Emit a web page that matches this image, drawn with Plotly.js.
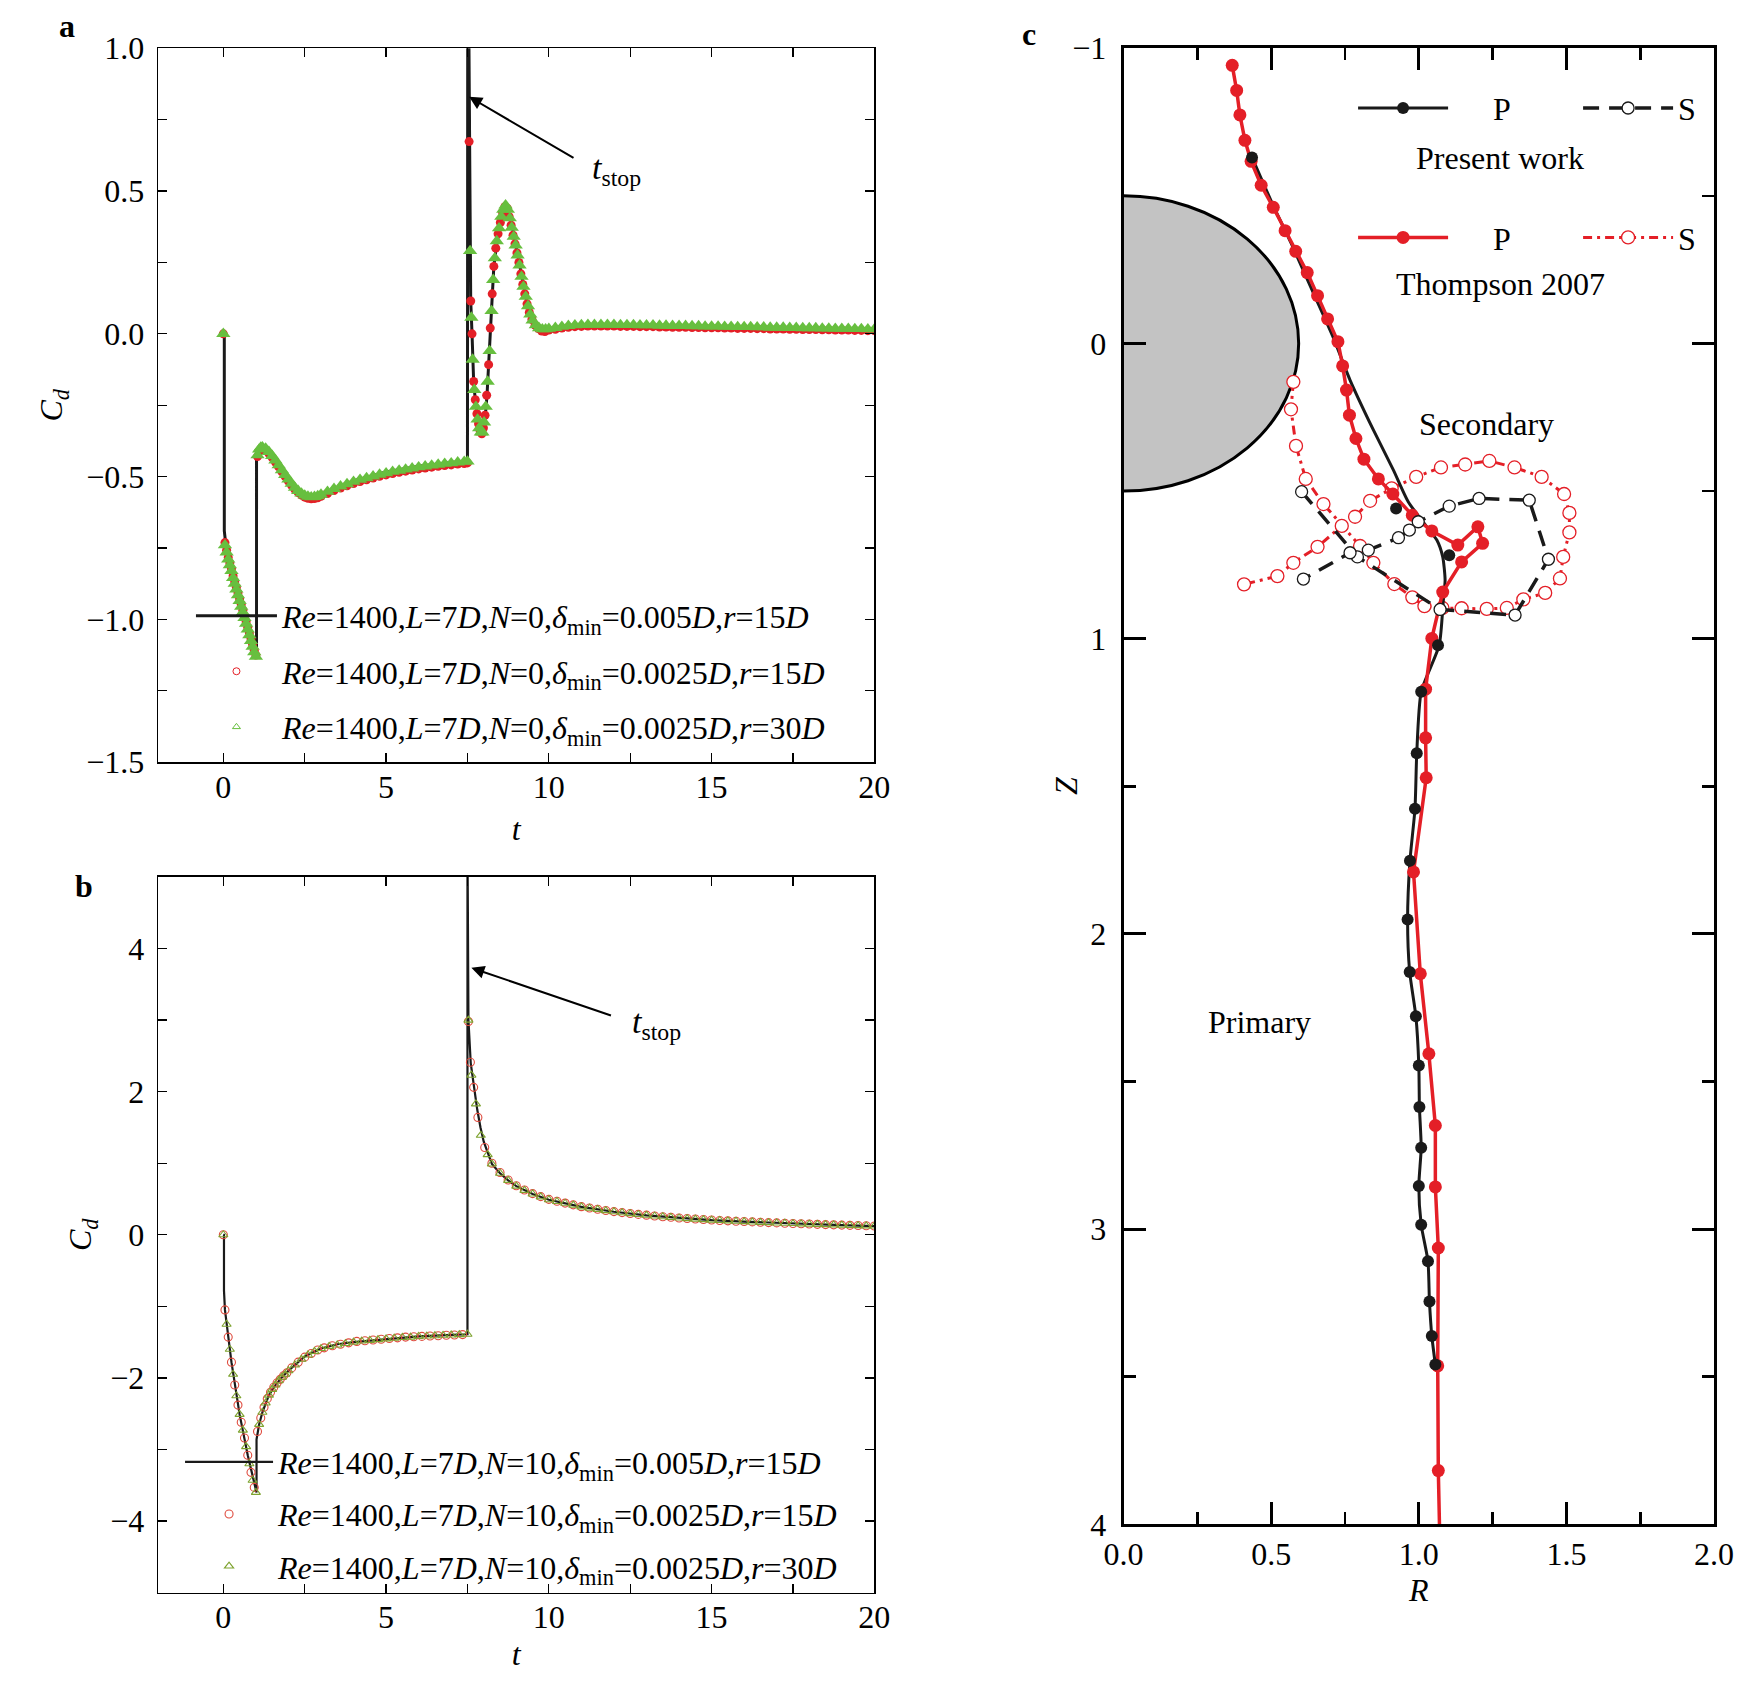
<!DOCTYPE html>
<html><head><meta charset="utf-8">
<script src="https://cdn.plot.ly/plotly-3.0.1.min.js"></script>
<style>html,body{margin:0;padding:0;background:#fff;overflow:hidden}#chart{width:1760px;height:1681px}</style>
</head><body><div id="chart"></div>
<script>
// ---------------- Panel a data (t, Cd) ----------------
const tA_black = [0,0.03,0.03,0.07,0.5,1.0,1.02,1.02,1.1,1.2,1.4,1.6,1.8,2.0,2.3,2.6,2.8,3.0,3.5,4.0,5.0,6.0,7.0,7.5,7.51,7.53,7.55,7.6,7.64,7.69,7.74,7.79,7.84,7.9,7.95,8.0,8.05,8.1,8.15,8.2,8.26,8.31,8.38,8.45,8.52,8.6,8.67,8.75,8.85,8.95,9.05,9.15,9.25,9.35,9.45,9.6,9.8,10.0,10.5,11.0,12.0,13.0,14.0,16.0,18.0,20.0];
const cdA_black = [0,0,-0.69,-0.731,-0.935,-1.13,-1.13,-0.43,-0.40,-0.397,-0.413,-0.443,-0.477,-0.51,-0.55,-0.57,-0.571,-0.563,-0.54,-0.515,-0.484,-0.464,-0.451,-0.446,1.6,1.2,0.673,0.115,0.0,-0.167,-0.231,-0.28,-0.315,-0.34,-0.35,-0.33,-0.285,-0.215,-0.108,0.02,0.14,0.236,0.3,0.35,0.39,0.43,0.447,0.43,0.39,0.33,0.27,0.205,0.145,0.095,0.06,0.03,0.015,0.018,0.026,0.031,0.032,0.03,0.028,0.024,0.02,0.016];

const tA_start = [0,0.05,0.1,0.15,0.2,0.25,0.3,0.35,0.4,0.45,0.5,0.55,0.6,0.65,0.7,0.75,0.8,0.85,0.9,0.95,1.0];
const cdA_red_start = [0,-0.731,-0.758,-0.783,-0.803,-0.823,-0.848,-0.868,-0.888,-0.908,-0.928,-0.948,-0.968,-0.988,-1.008,-1.028,-1.048,-1.068,-1.088,-1.108,-1.125];
const cdA_green_start = [0,-0.74,-0.765,-0.79,-0.81,-0.83,-0.855,-0.875,-0.895,-0.915,-0.935,-0.955,-0.975,-0.995,-1.015,-1.035,-1.055,-1.075,-1.095,-1.115,-1.13];

const tA_plateau = [1.05,1.1,1.15,1.2,1.3,1.4,1.5,1.6,1.7,1.8,1.9,2.0,2.1,2.2,2.3,2.4,2.5,2.6,2.7,2.8,2.9,3.0,3.2,3.4,3.6,3.8,4.0,4.2,4.4,4.6,4.8,5.0,5.2,5.4,5.6,5.8,6.0,6.2,6.4,6.6,6.8,7.0,7.2,7.4,7.5];
const cdA_red_plateau = [-0.43,-0.411,-0.404,-0.403,-0.408,-0.419,-0.433,-0.449,-0.466,-0.483,-0.5,-0.516,-0.531,-0.545,-0.556,-0.565,-0.572,-0.576,-0.578,-0.577,-0.574,-0.569,-0.559,-0.549,-0.54,-0.532,-0.524,-0.517,-0.511,-0.505,-0.499,-0.494,-0.489,-0.485,-0.481,-0.477,-0.473,-0.47,-0.467,-0.464,-0.461,-0.459,-0.456,-0.454,-0.452];
const cdA_green_plateau = [-0.425,-0.405,-0.398,-0.397,-0.402,-0.413,-0.427,-0.443,-0.46,-0.477,-0.494,-0.51,-0.525,-0.539,-0.55,-0.559,-0.566,-0.57,-0.572,-0.571,-0.568,-0.563,-0.553,-0.543,-0.534,-0.526,-0.518,-0.511,-0.505,-0.499,-0.493,-0.488,-0.483,-0.479,-0.475,-0.471,-0.467,-0.464,-0.461,-0.458,-0.455,-0.453,-0.45,-0.448,-0.447];

const tA_red_spike = [7.55,7.6,7.64,7.69,7.74,7.79,7.84,7.89,7.94,7.99,8.04,8.09,8.15,8.2,8.26,8.31,8.37,8.44,8.51,8.58,8.65,8.72,8.78,8.84,8.9,8.96,9.02,9.08,9.14,9.2,9.26,9.33,9.4,9.48,9.58,9.68,9.78,9.88];
const cdA_red_spike = [0.673,0.115,0.0,-0.167,-0.231,-0.28,-0.315,-0.34,-0.35,-0.33,-0.285,-0.215,-0.108,0.02,0.14,0.236,0.3,0.35,0.39,0.425,0.445,0.44,0.41,0.38,0.345,0.315,0.283,0.25,0.21,0.173,0.14,0.105,0.075,0.05,0.03,0.018,0.01,0.008];
const tA_green_spike = [7.58,7.62,7.66,7.71,7.76,7.81,7.86,7.91,7.96,8.01,8.06,8.12,8.18,8.24,8.29,8.34,8.4,8.47,8.54,8.6,8.67,8.74,8.8,8.86,8.92,8.98,9.04,9.1,9.16,9.22,9.29,9.36,9.43,9.5,9.6,9.7,9.8,9.9];
const cdA_green_spike = [0.29,0.057,-0.09,-0.196,-0.255,-0.3,-0.33,-0.345,-0.345,-0.31,-0.255,-0.167,-0.06,0.08,0.189,0.265,0.325,0.37,0.41,0.435,0.45,0.435,0.405,0.372,0.34,0.31,0.275,0.24,0.2,0.165,0.13,0.097,0.068,0.047,0.03,0.02,0.016,0.016];

const tA_tail = [10.0,10.2,10.4,10.6,10.8,11.0,11.2,11.4,11.6,11.8,12.0,12.2,12.4,12.6,12.8,13.0,13.2,13.4,13.6,13.8,14.0,14.2,14.4,14.6,14.8,15.0,15.2,15.4,15.6,15.8,16.0,16.2,16.4,16.6,16.8,17.0,17.2,17.4,17.6,17.8,18.0,18.2,18.4,18.6,18.8,19.0,19.2,19.4,19.6,19.8,20.0];
const cdA_red_tail = [0.013,0.016,0.02,0.023,0.025,0.026,0.027,0.027,0.027,0.027,0.027,0.026,0.026,0.026,0.025,0.025,0.025,0.024,0.024,0.023,0.023,0.023,0.022,0.022,0.021,0.021,0.021,0.02,0.02,0.019,0.019,0.019,0.018,0.018,0.017,0.017,0.017,0.016,0.016,0.015,0.015,0.015,0.014,0.014,0.013,0.013,0.013,0.012,0.012,0.011,0.011];
const cdA_green_tail = [0.018,0.021,0.025,0.028,0.03,0.031,0.032,0.032,0.032,0.032,0.032,0.031,0.031,0.031,0.03,0.03,0.03,0.029,0.029,0.028,0.028,0.028,0.027,0.027,0.026,0.026,0.026,0.025,0.025,0.024,0.024,0.024,0.023,0.023,0.022,0.022,0.022,0.021,0.021,0.02,0.02,0.02,0.019,0.019,0.018,0.018,0.018,0.017,0.017,0.016,0.016];

const legendA = [
  '<i>Re</i>=1400,<i>L</i>=7<i>D</i>,<i>N</i>=0,<i>δ</i><sub>min</sub>=0.005<i>D</i>,<i>r</i>=15<i>D</i>',
  '<i>Re</i>=1400,<i>L</i>=7<i>D</i>,<i>N</i>=0,<i>δ</i><sub>min</sub>=0.0025<i>D</i>,<i>r</i>=15<i>D</i>',
  '<i>Re</i>=1400,<i>L</i>=7<i>D</i>,<i>N</i>=0,<i>δ</i><sub>min</sub>=0.0025<i>D</i>,<i>r</i>=30<i>D</i>'];

// ---------------- Panel b data (t, Cd) ----------------
const tB_black = [0,0.02,0.02,0.05,0.25,0.5,0.75,1.0,1.02,1.02,1.1,1.2,1.4,1.6,1.8,2.0,2.5,3.0,3.5,4.0,5.0,6.0,7.0,7.5,7.5,7.53,7.6,7.7,7.8,7.9,8.0,8.25,8.5,8.75,9.0,9.5,10,11,12,13,14,15,16,17,18,19,20];
const cdB_black = [0,0,-0.78,-1.05,-1.78,-2.51,-3.08,-3.6,-3.6,-2.86,-2.65,-2.48,-2.24,-2.1,-1.99,-1.9,-1.7,-1.59,-1.53,-1.5,-1.455,-1.42,-1.4,-1.39,5.6,3.0,2.4,2.04,1.75,1.5,1.3,0.99,0.86,0.76,0.68,0.57,0.49,0.39,0.322,0.272,0.234,0.205,0.184,0.165,0.149,0.135,0.122];

const tB_red = [0,0.05,0.15,0.25,0.35,0.45,0.55,0.65,0.75,0.85,0.95,1.05,1.15,1.25,1.35,1.45,1.55,1.65,1.75,1.85,1.95,2.1,2.3,2.5,2.7,2.9,3.1,3.35,3.6,3.85,4.1,4.35,4.6,4.85,5.1,5.35,5.6,5.85,6.1,6.35,6.6,6.85,7.1,7.35,7.53,7.59,7.69,7.82,8.03];
const cdB_red = [0,-1.05,-1.43,-1.78,-2.1,-2.38,-2.62,-2.84,-3.08,-3.32,-3.53,-2.75,-2.56,-2.41,-2.29,-2.2,-2.13,-2.07,-2.02,-1.97,-1.93,-1.86,-1.78,-1.71,-1.66,-1.61,-1.58,-1.55,-1.53,-1.51,-1.49,-1.48,-1.47,-1.46,-1.45,-1.44,-1.43,-1.425,-1.42,-1.415,-1.41,-1.405,-1.4,-1.395,2.98,2.41,2.06,1.64,1.22];
const tB_green = [0,0.1,0.2,0.3,0.4,0.5,0.6,0.7,0.8,0.9,1.0,1.1,1.2,1.3,1.4,1.5,1.6,1.7,1.8,1.9,2.0,2.2,2.4,2.6,2.8,3.0,3.25,3.5,3.75,4.0,4.25,4.5,4.75,5.0,5.25,5.5,5.75,6.0,6.25,6.5,6.75,7.0,7.25,7.5,7.53,7.62,7.76,7.91,8.12];
const cdB_green = [0,-1.25,-1.6,-1.95,-2.25,-2.51,-2.73,-2.96,-3.2,-3.43,-3.6,-2.65,-2.48,-2.35,-2.24,-2.16,-2.1,-2.04,-1.99,-1.95,-1.9,-1.82,-1.74,-1.68,-1.63,-1.59,-1.56,-1.54,-1.52,-1.5,-1.485,-1.475,-1.465,-1.455,-1.445,-1.435,-1.43,-1.42,-1.415,-1.41,-1.405,-1.4,-1.395,-1.39,3.0,2.23,1.83,1.39,1.12];
const tB_decay = [8.25,8.5,8.75,9.0,9.25,9.5,9.75,10.0,10.25,10.5,10.75,11.0,11.25,11.5,11.75,12.0,12.25,12.5,12.75,13.0,13.25,13.5,13.75,14.0,14.25,14.5,14.75,15.0,15.25,15.5,15.75,16.0,16.25,16.5,16.75,17.0,17.25,17.5,17.75,18.0,18.25,18.5,18.75,19.0,19.25,19.5,19.75,20.0];
const cdB_red_decay = [1.0,0.87,0.765,0.685,0.625,0.575,0.533,0.495,0.468,0.443,0.418,0.393,0.375,0.357,0.34,0.324,0.31,0.297,0.285,0.274,0.263,0.253,0.244,0.235,0.227,0.22,0.213,0.206,0.2,0.195,0.19,0.185,0.18,0.175,0.17,0.166,0.162,0.158,0.154,0.15,0.146,0.142,0.139,0.135,0.132,0.129,0.126,0.123];
const cdB_green_decay = [0.99,0.86,0.76,0.68,0.62,0.57,0.53,0.49,0.465,0.44,0.415,0.39,0.372,0.355,0.338,0.322,0.308,0.295,0.283,0.272,0.262,0.252,0.243,0.234,0.226,0.219,0.212,0.205,0.2,0.194,0.189,0.184,0.179,0.174,0.17,0.165,0.161,0.157,0.153,0.149,0.145,0.142,0.138,0.135,0.131,0.128,0.125,0.122];

const legendB = [
  '<i>Re</i>=1400,<i>L</i>=7<i>D</i>,<i>N</i>=10,<i>δ</i><sub>min</sub>=0.005<i>D</i>,<i>r</i>=15<i>D</i>',
  '<i>Re</i>=1400,<i>L</i>=7<i>D</i>,<i>N</i>=10,<i>δ</i><sub>min</sub>=0.0025<i>D</i>,<i>r</i>=15<i>D</i>',
  '<i>Re</i>=1400,<i>L</i>=7<i>D</i>,<i>N</i>=10,<i>δ</i><sub>min</sub>=0.0025<i>D</i>,<i>r</i>=30<i>D</i>'];

// ---------------- Panel c data (R, Z) ----------------
const rP_R = [0.368,0.383,0.394,0.411,0.432,0.466,0.507,0.547,0.583,0.622,0.657,0.691,0.726,0.742,0.755,0.765,0.787,0.814,0.863,0.912,0.978,1.044,1.132,1.200,1.216,1.145,1.081,1.044,1.023,1.023,1.025,0.982,1.005,1.034,1.056,1.056,1.066,1.064,1.066,1.072];
const rP_Z = [-0.942,-0.857,-0.774,-0.688,-0.617,-0.536,-0.461,-0.382,-0.312,-0.240,-0.162,-0.083,-0.006,0.076,0.158,0.243,0.322,0.392,0.459,0.51,0.582,0.635,0.683,0.621,0.677,0.740,0.842,0.999,1.171,1.336,1.471,1.790,2.135,2.406,2.649,2.857,3.064,3.463,3.818,4.10];
const bPline_R = [0.435,0.47,0.51,0.571,0.645,0.711,0.767,0.846,0.914,0.964,1.027,1.061,1.081,1.089,1.083,1.069,1.008,0.993,0.987,0.970,0.962,0.969,0.990,1.000,1.002,1.008,1.000,1.008,1.031,1.036,1.044,1.056];
const bPline_Z = [-0.630,-0.55,-0.46,-0.332,-0.166,-0.018,0.124,0.293,0.429,0.536,0.621,0.666,0.723,0.802,0.870,1.022,1.180,1.388,1.576,1.752,1.951,2.129,2.279,2.446,2.586,2.724,2.854,2.985,3.109,3.245,3.362,3.459];
const bPmk_R = [0.435,0.923,1.103,1.065,1.008,0.993,0.987,0.970,0.962,0.969,0.990,1.000,1.002,1.008,1.000,1.008,1.031,1.036,1.044,1.056];
const bPmk_Z = [-0.630,0.559,0.717,1.022,1.180,1.388,1.576,1.752,1.951,2.129,2.279,2.446,2.586,2.724,2.854,2.985,3.109,3.245,3.362,3.459];
const bS_R = [0.603,0.792,1.072,1.326,1.439,1.374,1.204,1.103,0.998,0.968,0.931,0.829,0.767,0.609];
const bS_Z = [0.502,0.723,0.901,0.920,0.731,0.531,0.525,0.551,0.604,0.632,0.658,0.700,0.709,0.798];
const rS_R = [0.575,0.567,0.584,0.617,0.677,0.801,0.846,0.917,0.978,1.019,1.08,1.145,1.230,1.298,1.354,1.428,1.478,1.489,1.510,1.510,1.492,1.416,1.324,1.239,1.157,1.075,0.991,0.908,0.835,0.784,0.739,0.657,0.575,0.521,0.408];
const rS_Z = [0.130,0.223,0.347,0.459,0.544,0.686,0.743,0.815,0.860,0.890,0.896,0.897,0.899,0.896,0.867,0.845,0.796,0.723,0.640,0.574,0.510,0.452,0.420,0.398,0.410,0.420,0.452,0.491,0.533,0.587,0.618,0.689,0.743,0.788,0.816];
const legendC = ['\u2003\u2005P', 'S'];
const sphereRx = 0.593, sphereRz = 0.5;

// ---------------- styling ----------------
const FONT = '"Liberation Serif", "Times New Roman", Times, serif';
const RED = '#e41f27', GREEN = '#67bf3f', REDB = '#df4b3e', GREENB = '#7ea32f';
const cat = (...a) => [].concat(...a);

const traces = [
  // panel a
  {x: tA_black, y: cdA_black, xaxis:'x', yaxis:'y', mode:'lines', line:{color:'#1a1a1a', width:3},
   name: legendA[0], legend:'legend', legendgroup:'a1'},
  {x: cat(tA_start, tA_plateau, tA_red_spike, tA_tail), y: cat(cdA_red_start, cdA_red_plateau, cdA_red_spike, cdA_red_tail),
   xaxis:'x', yaxis:'y', mode:'markers', marker:{symbol:'circle', size:9, color:RED}, showlegend:false, hoverinfo:'skip'},
  {x: cat(tA_start, tA_plateau, tA_green_spike, tA_tail), y: cat(cdA_green_start, cdA_green_plateau, cdA_green_spike, cdA_green_tail),
   xaxis:'x', yaxis:'y', mode:'markers', marker:{symbol:'triangle-up', size:12.5, color:GREEN}, showlegend:false, hoverinfo:'skip'},
  {x:[null], y:[null], xaxis:'x', yaxis:'y', mode:'markers', marker:{symbol:'circle-open', size:7, color:RED, line:{width:1}},
   name: legendA[1], legend:'legend', legendgroup:'a2'},
  {x:[null], y:[null], xaxis:'x', yaxis:'y', mode:'markers', marker:{symbol:'triangle-up-open', size:7, color:GREEN, line:{width:1}},
   name: legendA[2], legend:'legend', legendgroup:'a3'},
  // panel b
  {x: tB_black, y: cdB_black, xaxis:'x2', yaxis:'y2', mode:'lines', line:{color:'#1a1a1a', width:2.2},
   name: legendB[0], legend:'legend2', legendgroup:'b1'},
  {x: cat(tB_red, tB_decay), y: cat(cdB_red, cdB_red_decay), xaxis:'x2', yaxis:'y2', mode:'markers',
   marker:{symbol:'circle-open', size:8, color:REDB, line:{width:1.1}}, name: legendB[1], legend:'legend2', legendgroup:'b2'},
  {x: cat(tB_green, tB_decay), y: cat(cdB_green, cdB_green_decay), xaxis:'x2', yaxis:'y2', mode:'markers',
   marker:{symbol:'triangle-up-open', size:8, color:GREENB, line:{width:1.1}}, name: legendB[2], legend:'legend2', legendgroup:'b3'},
  // panel c
  {x: rS_R, y: rS_Z, xaxis:'x3', yaxis:'y3', mode:'lines+markers', line:{color:RED, width:3, dash:'9px,5px,3px,5px'},
   marker:{symbol:'circle', size:13, color:'white', line:{color:RED, width:1.3}}, name: legendC[1], legend:'legend4', legendrank:2, legendwidth:25},
  {x: bPline_R, y: bPline_Z, xaxis:'x3', yaxis:'y3', mode:'lines', line:{color:'#1a1a1a', width:3, shape:'spline', smoothing:0.6}, showlegend:false},
  {x: rP_R, y: rP_Z, xaxis:'x3', yaxis:'y3', mode:'lines+markers', line:{color:RED, width:3.5},
   marker:{symbol:'circle', size:13, color:RED}, name: legendC[0], legend:'legend4', legendrank:1, legendwidth:120},
  {x: bPmk_R, y: bPmk_Z, xaxis:'x3', yaxis:'y3', mode:'markers', marker:{symbol:'circle', size:12, color:'#1a1a1a'}, showlegend:false},
  {x:[null], y:[null], xaxis:'x3', yaxis:'y3', mode:'lines+markers', line:{color:'#1a1a1a', width:3},
   marker:{symbol:'circle', size:12, color:'#1a1a1a'}, name: legendC[0], legend:'legend3', legendrank:1, legendwidth:120},
  {x: bS_R, y: bS_Z, xaxis:'x3', yaxis:'y3', mode:'lines+markers', line:{color:'#1a1a1a', width:3.5, dash:'16px,10px'},
   marker:{symbol:'circle', size:12, color:'white', line:{color:'#1a1a1a', width:1.3}}, name: legendC[1], legend:'legend3', legendrank:2, legendwidth:25}
];

const tf = {family:FONT, size:32, color:'black'};
const base = {showgrid:false, zeroline:false, showline:true, linecolor:'black', ticks:'inside', mirror:'allticks',
  tickcolor:'black', tickfont:tf, ticklabelstandoff:6};
const thin = {linewidth:1.5, ticklen:9, tickwidth:1.3};
const minorThin = (d) => ({dtick:d, tick0:0, ticks:'inside', ticklen:9, tickwidth:1.3, tickcolor:'black'});

const legBase = {bgcolor:'rgba(0,0,0,0)', borderwidth:0, font:{family:FONT, size:32, color:'black'}, xanchor:'left', yanchor:'top'};

const layout = {
  width:1760, height:1681, margin:{l:0,r:0,t:0,b:0}, paper_bgcolor:'white', plot_bgcolor:'white', showlegend:true,
  font:{family:FONT, color:'black'},
  xaxis:{...base, ...thin, domain:[0.0899,0.4968], anchor:'y', range:[-2,20], tick0:0, dtick:5, minor:minorThin(2.5), ticklabelstandoff:-4,
         title:{text:'<i>t</i>', font:tf, standoff:13}},
  yaxis:{...base, ...thin, domain:[0.5466,0.9713], anchor:'x', range:[-1.5,1], tick0:0, dtick:0.5, tickformat:'.1f', minor:minorThin(0.25),
         title:{text:'<i>C</i><sub><i>d</i></sub>', font:tf, standoff:14}},
  xaxis2:{...base, ...thin, domain:[0.0899,0.4968], anchor:'y2', range:[-2,20], tick0:0, dtick:5, minor:minorThin(2.5), ticklabelstandoff:-4,
         title:{text:'<i>t</i>', font:tf, standoff:8}},
  yaxis2:{...base, ...thin, domain:[0.0526,0.4783], anchor:'x2', range:[-5,5], tick0:0, dtick:2, minor:minorThin(1),
         title:{text:'<i>C</i><sub><i>d</i></sub>', font:tf, standoff:9}},
  xaxis3:{...base, domain:[0.6384,0.9739], anchor:'y3', range:[0,2], tick0:0, dtick:0.5, tickformat:'.1f', linewidth:3, ticklen:22, tickwidth:3,
         minor:{dtick:0.25, tick0:0, ticks:'inside', ticklen:12, tickwidth:2.5, tickcolor:'black'}, ticklabelstandoff:-1,
         title:{text:'<i>R</i>', font:tf, standoff:8}},
  yaxis3:{...base, domain:[0.0932,0.9713], anchor:'x3', range:[4,-1], tick0:0, dtick:1, linewidth:3, ticklen:22, tickwidth:3,
         minor:{dtick:0.5, tick0:0, ticks:'inside', ticklen:12, tickwidth:2.5, tickcolor:'black'}, ticklabelstandoff:8},
  legend:{...legBase, x:0.1085, y:0.650, itemwidth:81, traceorder:'grouped', tracegroupgap:11},
  legend2:{...legBase, x:0.1023, y:0.1466, itemwidth:88, traceorder:'grouped', tracegroupgap:7.5},
  legend3:{...legBase, x:0.7688, y:0.952, orientation:'h', itemwidth:90},
  legend4:{...legBase, x:0.7688, y:0.875, orientation:'h', itemwidth:90},
  shapes:[{type:'circle', xref:'x3', yref:'y3', x0:-sphereRx, x1:sphereRx, y0:-sphereRz, y1:sphereRz,
           fillcolor:'#c3c3c3', line:{color:'black', width:3}, layer:'below'}],
  annotations:[
    {xref:'paper', yref:'paper', x:0.0381, y:0.9845, xanchor:'center', yanchor:'middle', text:'<b>a</b>', showarrow:false, font:{family:FONT, size:32}},
    {xref:'paper', yref:'paper', x:0.0477, y:0.4732, xanchor:'center', yanchor:'middle', text:'<b>b</b>', showarrow:false, font:{family:FONT, size:32}},
    {xref:'paper', yref:'paper', x:0.5847, y:0.9800, xanchor:'center', yanchor:'middle', text:'<b>c</b>', showarrow:false, font:{family:FONT, size:32}},
    {xref:'paper', yref:'paper', x:0.6057, y:0.5324, xanchor:'center', yanchor:'middle', text:'<i>Z</i>', textangle:-90, showarrow:false, font:tf},
    {xref:'x', yref:'y', axref:'x', ayref:'y', x:7.55, y:0.83, ax:10.85, ay:0.61, text:' ', font:{size:10},
     showarrow:true, arrowhead:2, arrowsize:1.3, arrowwidth:2, arrowcolor:'black', standoff:0, startstandoff:0},
    {xref:'x', yref:'y', x:12.09, y:0.572, text:'<i>t</i><sub>stop</sub>', showarrow:false, font:{family:FONT, size:34}},
    {xref:'x2', yref:'y2', axref:'x2', ayref:'y2', x:7.62, y:3.73, ax:12.0, ay:3.05, text:' ', font:{size:10},
     showarrow:true, arrowhead:2, arrowsize:1.3, arrowwidth:2, arrowcolor:'black', standoff:0, startstandoff:0},
    {xref:'x2', yref:'y2', x:13.32, y:2.95, text:'<i>t</i><sub>stop</sub>', showarrow:false, font:{family:FONT, size:34}},
    {xref:'x3', yref:'y3', x:1.230, y:0.274, text:'Secondary', showarrow:false, font:{family:FONT, size:32}},
    {xref:'x3', yref:'y3', x:0.46, y:2.297, text:'Primary', showarrow:false, font:{family:FONT, size:32}},
    {xref:'x3', yref:'y3', x:1.275, y:-0.627, text:'Present work', showarrow:false, font:{family:FONT, size:32}},
    {xref:'x3', yref:'y3', x:1.277, y:-0.201, text:'Thompson 2007', showarrow:false, font:{family:FONT, size:32}}
  ]
};

Plotly.newPlot('chart', traces, layout, {displayModeBar:false, staticPlot:true});
</script></body></html>
